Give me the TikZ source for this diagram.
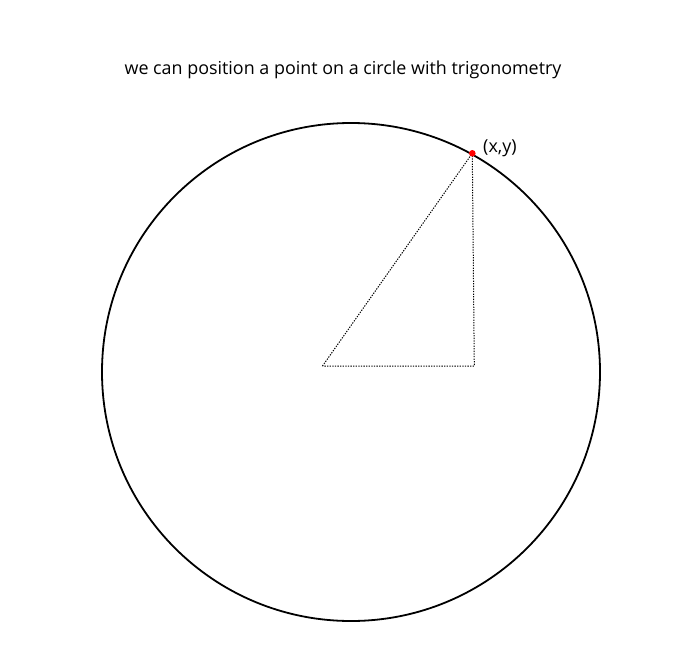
\documentclass[tikz,border=0pt]{standalone}
\usepackage{fontspec}
\setmainfont{Open Sans}
\begin{document}
\begin{tikzpicture}[x=1pt,y=-1pt,
  ring/.style={draw=black,line width=1.8pt},
  guide/.style={draw=black,line width=1pt,dash pattern=on 1.3pt off 1.3pt},
  lbl/.style={inner sep=0pt,font=\fontsize{17.9}{21}\selectfont}]
\useasboundingbox[fill=white] (0,0) rectangle (694,651);
\node[lbl] (title) at (343,70) {we can position a point on a circle with trigonometry};
\coordinate (c) at (351,372);
\draw[ring] (c) circle[radius=249];
\coordinate (o) at (322.5,366);
\coordinate (p) at (472.3,153.3);
\coordinate (q) at (474.3,366);
\draw[guide] (o) -- (p) -- (q) -- (o);
\fill[red] (p) circle[radius=3.3];
\node[lbl,anchor=west] (pl) at (483,148) {(x,y)};
\end{tikzpicture}
\end{document}
